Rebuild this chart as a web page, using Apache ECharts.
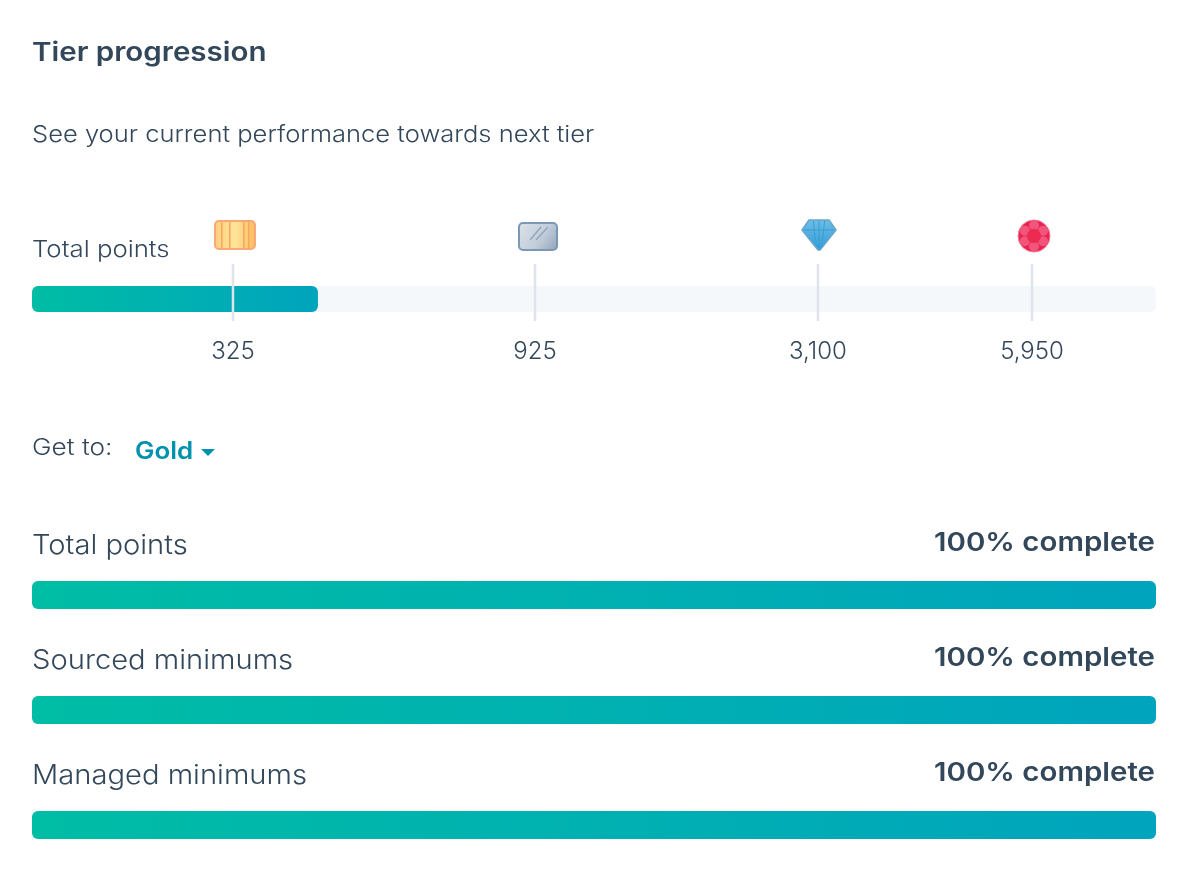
<!DOCTYPE html>
<html>
<head>
<meta charset="utf-8">
<title>Tier progression</title>
<style>html,body{margin:0;padding:0;background:#fff}#chart{width:1184px;height:876px}</style>
<script src="https://cdn.jsdelivr.net/npm/echarts@6/dist/echarts.min.js"></script>
</head>
<body>
<div id="chart"></div>
<script>
// Tier thresholds: where each sits along the track (percent) and its points label
const tierNames = ['Bronze', 'Silver', 'Diamond', 'Ruby'];
const tierStops = [17.88, 44.75, 69.93, 88.97];
const tierPoints = ['325', '925', '3,100', '5,950'];
const currentProgress = [25.44];

// Requirement rows for the selected tier
const rowNames = ['Total points', 'Sourced minimums', 'Managed minimums'];
const rowComplete = [100, 100, 100];

const FONT = 'Inter, "Noto Sans", sans-serif';
const INK = '#33475b';
const TRACK = '#f5f8fa';
const STEM = '#dfe3eb';

const barFill = {
  type: 'linear', x: 0, y: 0, x2: 1, y2: 0,
  colorStops: [{ offset: 0, color: '#00bda5' }, { offset: 1, color: '#00a4bd' }]
};

const LEFT = 32, WIDTH = 1124;
const rowTops = [581, 696, 811];
const grids = [
  { left: LEFT, width: WIDTH, top: 286, height: 26 },
  { left: LEFT, width: WIDTH, top: 264, height: 57 }
];
rowTops.forEach(top => grids.push({ left: LEFT, width: WIDTH, top, height: 28 }));

const hiddenX = i => ({ type: 'value', gridIndex: i, min: 0, max: 100, show: false });
const hiddenY = i => ({ type: 'category', gridIndex: i, data: [''], show: false });

function progressBar(gridIndex, data) {
  return {
    type: 'bar', xAxisIndex: gridIndex, yAxisIndex: gridIndex, data,
    barWidth: '100%', silent: true, z: 2,
    showBackground: true,
    backgroundStyle: { color: TRACK, borderRadius: 6 },
    itemStyle: { color: barFill, borderRadius: 6 }
  };
}

// Gem badges, drawn around the centre of each badge
const badgeDrawers = {
  Bronze(cx, cy) {
    const stripes = [-14, -6, 8, 13].map(dx => ({
      type: 'rect', shape: { x: cx + dx, y: cy - 13, width: 1.6, height: 26 },
      style: { fill: '#f6a85e' }
    }));
    return [{
      type: 'rect', shape: { x: cx - 20, y: cy - 14, width: 40, height: 28, r: 4 },
      style: {
        fill: { type: 'linear', x: 0, y: 0, x2: 1, y2: 0, colorStops: [
          { offset: 0, color: '#ffcf7e' }, { offset: 0.5, color: '#ffe49a' }, { offset: 1, color: '#fdbb5e' }] },
        stroke: '#f8a877', lineWidth: 2
      }
    }, ...stripes];
  },
  Silver(cx, cy) {
    return [{
      type: 'rect', shape: { x: cx - 19, y: cy - 13, width: 38, height: 27, r: 4 },
      style: {
        fill: { type: 'linear', x: 0, y: 0, x2: 1, y2: 1, colorStops: [
          { offset: 0, color: '#dde3ea' }, { offset: 0.55, color: '#c3cedb' }, { offset: 1, color: '#8fa2b8' }] },
        stroke: '#7c98b6', lineWidth: 2
      }
    }, {
      type: 'line', shape: { x1: cx - 8, y1: cy + 4, x2: cx + 3, y2: cy - 9 },
      style: { stroke: '#8ea3ba', lineWidth: 1.2 }
    }, {
      type: 'line', shape: { x1: cx - 2, y1: cy + 4, x2: cx + 10, y2: cy - 9 },
      style: { stroke: '#8ea3ba', lineWidth: 1.2 }
    }];
  },
  Diamond(cx, cy) {
    return [{
      type: 'polygon',
      shape: { points: [[cx - 10, cy - 15], [cx + 10, cy - 15], [cx + 17, cy - 5], [cx + 1, cy + 15], [cx - 1, cy + 15], [cx - 17, cy - 5]] },
      style: {
        fill: { type: 'linear', x: 0, y: 0, x2: 0, y2: 1, colorStops: [
          { offset: 0, color: '#6cbfe8' }, { offset: 1, color: '#2f9bd6' }] },
        stroke: '#6aa5cc', lineWidth: 1.5, lineJoin: 'round'
      }
    }, ...[-7, 0, 7].map(dx => ({
      type: 'line', shape: { x1: cx + dx * 0.8, y1: cy - 14, x2: cx + dx * 0.5, y2: cy + 6 },
      style: { stroke: '#3d9ccf', lineWidth: 1 }
    })), {
      type: 'line', shape: { x1: cx - 15, y1: cy - 5, x2: cx + 15, y2: cy - 5 },
      style: { stroke: '#3d9ccf', lineWidth: 1 }
    }];
  },
  Ruby(cx, cy) {
    const facets = [30, 90, 150, 210, 270, 330].map(deg => {
      const a = deg * Math.PI / 180;
      return {
        type: 'circle', shape: { cx: cx + Math.cos(a) * 10.5, cy: cy + Math.sin(a) * 10.5, r: 5 },
        style: { fill: '#f2557c' }
      };
    });
    return [{
      type: 'circle', shape: { cx, cy, r: 16 },
      style: { fill: '#e8234f', stroke: '#f47a97', lineWidth: 1 }
    }, ...facets, {
      type: 'circle', shape: { cx, cy, r: 7 }, style: { fill: '#ec2a52' }
    }];
  }
};

const badgeNudge = [2, 3, 1, 2];
const badgeMiddle = [235, 236, 235, 236];

function renderTier(params, api) {
  const i = params.dataIndex;
  const bottom = api.coord([api.value(0), 0]);
  const top = api.coord([api.value(0), 1]);
  return {
    type: 'group',
    children: [{
      type: 'line',
      shape: { x1: top[0], y1: top[1], x2: bottom[0], y2: bottom[1] },
      style: { stroke: STEM, lineWidth: 2.5 }
    }, ...badgeDrawers[tierNames[i]](top[0] + badgeNudge[i], badgeMiddle[i])]
  };
}

const series = [
  progressBar(0, currentProgress),
  {
    type: 'custom', xAxisIndex: 1, yAxisIndex: 1, z: 5, silent: true,
    data: tierStops.map(v => [v]),
    encode: { x: 0 },
    renderItem: renderTier
  }
];
rowComplete.forEach((v, i) => series.push(progressBar(i + 2, [v])));

const xAxes = grids.map((_, i) => hiddenX(i));
xAxes[1] = {
  type: 'value', gridIndex: 1, min: 0, max: 100, position: 'bottom',
  axisLine: { show: false }, axisTick: { show: false }, splitLine: { show: false },
  axisLabel: {
    customValues: tierStops, margin: 19,
    color: INK, fontFamily: FONT, fontSize: 24, fontWeight: 300,
    formatter: v => tierPoints[tierStops.indexOf(v)]
  }
};
const yAxes = grids.map((_, i) => hiddenY(i));
yAxes[1] = { type: 'value', gridIndex: 1, min: 0, max: 1, show: false };

// The face is stretched a little horizontally to get the wide set of the page's text
const text = (x, y, value, size, weight, stretch, extra) => ({
  type: 'text', x, y, scaleX: stretch, originX: 0, originY: 0,
  style: Object.assign({
    text: value, fill: INK, fontFamily: FONT, fontSize: size, fontWeight: weight,
    textAlign: 'left', textVerticalAlign: 'middle'
  }, extra || {})
});

const graphics = [
  text(32, 53, 'Tier progression', 26, 600, 1.136),
  text(32, 135, 'See your current performance towards next tier', 23, 300, 1.11),
  text(32, 250, 'Total points', 23, 300, 1.12),
  text(32, 448, 'Get to:', 23, 300, 1.14),
  text(135, 452, 'Gold', 24, 600, 1.08, { fill: '#0091ae' }),
  {
    type: 'polygon',
    shape: { points: [[201, 449], [215, 449], [208, 456]] },
    style: { fill: '#0091ae' }
  }
];
rowNames.forEach((name, i) => {
  graphics.push(text(32, rowTops[i] - 35, name, 27, 300, 1.08));
  graphics.push(text(1155, rowTops[i] - 38, rowComplete[i] + '% complete', 26, 600, 1.133, { textAlign: 'right' }));
});

const chart = echarts.init(document.getElementById('chart'), null, { renderer: 'canvas' });
chart.setOption({
  animation: false,
  backgroundColor: '#ffffff',
  grid: grids,
  xAxis: xAxes,
  yAxis: yAxes,
  series,
  graphic: graphics
});
</script>
</body>
</html>
